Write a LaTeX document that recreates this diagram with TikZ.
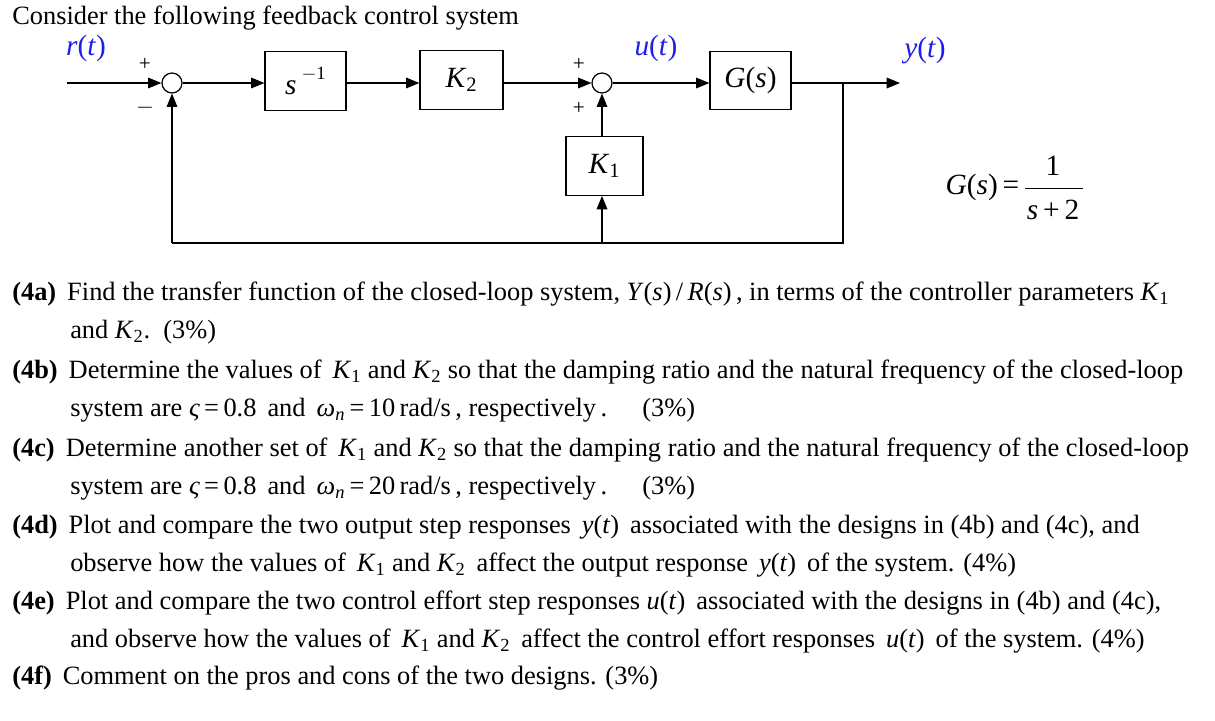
\documentclass[tikz,border=0pt]{standalone}
\usepackage{fontspec}
\setmainfont{Liberation Serif}
\usetikzlibrary{arrows.meta}
\definecolor{lblue}{RGB}{30,30,235}
\newcommand\mi[1]{\textit{#1}}
\newcommand\ksub[1]{\textit{K}\textsubscript{#1}}
\begin{document}
\begin{tikzpicture}[x=0.75pt,y=-0.75pt,
  blk/.style={draw,line width=0.9pt,minimum width=#1,minimum height=44pt,inner sep=0pt,font=\fontsize{22}{22}\selectfont},
  sumj/.style={draw,circle,line width=0.9pt,minimum size=15pt,inner sep=0pt},
  ln/.style={line width=0.9pt},
  ar/.style={ln,-{Triangle[length=10pt,width=8pt]}},
  sgn/.style={font=\fontsize{16}{16}\selectfont},
  sig/.style={text=lblue,font=\fontsize{22}{22}\selectfont},
  tx/.style={anchor=base west,inner sep=0pt,font=\fontsize{19.8}{19.8}\selectfont}]
\useasboundingbox (0,0) rectangle (1215,721);
\node[tx] (title) at (12,24) {Consider the following feedback control system};
\node[sig] (r) at (86,48) {\mi{r}(\mi{t})};
\node[sig] (u) at (656,48) {\mi{u}(\mi{t})};
\node[sig] (y) at (925,50) {\mi{y}(\mi{t})};
\coordinate (in) at (67,83);
\node[sumj] (s1) at (172,83) {};
\node[blk=60.75pt] (sinv) at (305.5,81) {\mi{s}\,\raisebox{1.1ex}{\fontsize{14}{14}\selectfont$-$1}};
\node[blk=62.25pt] (k2) at (461.5,80) {\ksub{2}};
\node[sumj] (s2) at (602,83) {};
\node[blk=60.75pt] (g) at (750.5,80.5) {\mi{G}(\mi{s})};
\node[blk=57.75pt] (k1) at (604.5,166) {\ksub{1}};
\coordinate (br) at (843,83);
\coordinate (out) at (900,83);
\coordinate (bl) at (172,243);
\coordinate (bb) at (843,243);
\draw[ar] (in) -- (s1);
\draw[ar] (s1) -- (s1 -| sinv.west);
\draw[ar] (s1 -| sinv.east) -- (s1 -| k2.west);
\draw[ar] (s1 -| k2.east) -- (s2);
\draw[ar] (s2) -- (s2 -| g.west);
\draw[ar] (s2 -| g.east) -- (out);
\draw[ln] (br) -- (bb) -- (bl);
\draw[ar] (bl) -- (s1);
\draw[ar] (s2 |- bb) -- (s2 |- k1.south);
\draw[ar] (s2 |- k1.north) -- (s2);
\node[sgn] (p1) at (145,64) {+};
\node[sgn] (m1) at (145,108) {$-$};
\node[sgn] (p2) at (579,64) {+};
\node[sgn] (p3) at (579,108) {+};
\node[anchor=east,font=\fontsize{22}{22}\selectfont] (geq) at (1024,187) {\mi{G}(\mi{s})\,=};
\node[font=\fontsize{22}{22}\selectfont] (num) at (1053,166) {1};
\node[font=\fontsize{22}{22}\selectfont] (den) at (1053,210) {\mi{s}\,+\,2};
\draw[line width=0.7pt] (1025,188) -- (1083,188);
\node[tx] (a1) at (12,300) {\textbf{(4a)}\, Find the transfer function of the closed-loop system, \mi{Y}(\mi{s})\,/\,\mi{R}(\mi{s})\,, in terms of the controller parameters \ksub{1}};
\node[tx] (a2) at (70,338) {and \ksub{2}.\, (3\%)};
\node[tx] (b1) at (12,378) {\textbf{(4b)}\, Determine the values of \,\ksub{1} and \ksub{2} so that the damping ratio and the natural frequency of the closed-loop};
\node[tx] (b2) at (70,416) {system are \mi{ς}\,=\,0.8\, and \,\mi{ω}\textsubscript{\mi{n}}\,=\,10\,rad/s\,, respectively\,. \quad(3\%)};
\node[tx] (c1) at (12,456) {\textbf{(4c)}\, Determine another set of \,\ksub{1} and \ksub{2} so that the damping ratio and the natural frequency of the closed-loop};
\node[tx] (c2) at (70,494) {system are \mi{ς}\,=\,0.8\, and \,\mi{ω}\textsubscript{\mi{n}}\,=\,20\,rad/s\,, respectively\,. \quad(3\%)};
\node[tx] (d1) at (12,533) {\textbf{(4d)}\, Plot and compare the two output step responses \,\mi{y}(\mi{t})\, associated with the designs in (4b) and (4c), and};
\node[tx] (d2) at (70,571) {observe how the values of \,\ksub{1} and \ksub{2}\, affect the output response \,\mi{y}(\mi{t})\, of the system. (4\%)};
\node[tx] (e1) at (12,609) {\textbf{(4e)}\, Plot and compare the two control effort step responses \mi{u}(\mi{t})\, associated with the designs in (4b) and (4c),};
\node[tx] (e2) at (70,647) {and observe how the values of \,\ksub{1} and \ksub{2}\, affect the control effort responses \,\mi{u}(\mi{t})\, of the system. (4\%)};
\node[tx] (f1) at (12,684) {\textbf{(4f)}\, Comment on the pros and cons of the two designs. (3\%)};
\end{tikzpicture}
\end{document}
